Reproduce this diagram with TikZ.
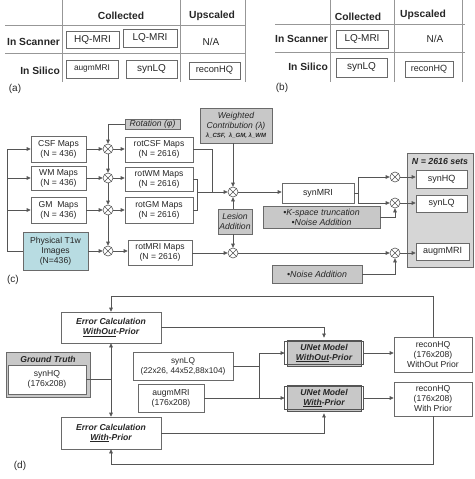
\documentclass[tikz,border=0pt]{standalone}
\usepackage{fontspec}
\setmainfont{Liberation Sans}
\usetikzlibrary{arrows.meta}
\definecolor{txt}{HTML}{262626}
\definecolor{linec}{HTML}{555555}
\definecolor{boxc}{HTML}{6A6A6A}
\definecolor{grayc}{HTML}{C8C8C8}
\definecolor{setc}{HTML}{D6D6D6}
\definecolor{tealc}{HTML}{B8DCE2}
\newcommand\fsz[2]{\fontsize{#1}{#2}\selectfont}
\tikzset{
  box/.style={draw=boxc, fill=white, line width=0.6pt, inner sep=1pt, align=center, text=txt, font=\fsz{8.6}{10}},
  tbox/.style={box, font=\fsz{10}{12}},
  gbox/.style={box, fill=grayc, font=\fsz{8.6}{10}\itshape},
  ln/.style={draw=linec, line width=0.6pt},
  tln/.style={draw=boxc!70, line width=0.6pt},
  arr/.style={ln, -{Triangle[length=4pt,width=3.6pt]}},
  darr/.style={ln, {Triangle[length=4pt,width=3.6pt]}-{Triangle[length=4pt,width=3.6pt]}},
  lab/.style={text=txt, inner sep=0pt, font=\fsz{10}{12}},
  hdr/.style={text=txt, inner sep=0pt, font=\fsz{10.3}{12}\bfseries},
  ox/.style={circle, draw=linec, fill=white, line width=0.6pt, minimum size=10pt, inner sep=0pt,
    path picture={\draw[linec, line width=0.6pt]
      ([shift={(45:6)}]path picture bounding box.center) -- ([shift={(225:6)}]path picture bounding box.center)
      ([shift={(135:6)}]path picture bounding box.center) -- ([shift={(315:6)}]path picture bounding box.center);}},
  unet/.style={box, fill=grayc, draw=linec, line width=0.8pt, font=\fsz{8.6}{10}\bfseries\itshape},
  uframe/.style={draw=linec, line width=0.8pt},
}
\begin{document}
\begin{tikzpicture}[x=1pt,y=-1pt]
\useasboundingbox (0,0) rectangle (474,479);
% ---------------- (a)
\draw[tln] (5,25) -- (245,25) (5,53) -- (245,53)
  (62,0) -- (62,82) (180,0) -- (180,82) (245,0) -- (245,82);
\node[hdr] (acol) at (121,16) {Collected};
\node[hdr] (aups) at (212,16) {Upscaled};
\node[hdr, anchor=east] (asc) at (60,42) {In Scanner};
\node[hdr, anchor=east] (asi) at (60,71) {In Silico};
\node[tbox, minimum width=53pt, minimum height=17pt] (ahq) at (92.5,39.5) {HQ-MRI};
\node[tbox, minimum width=54pt, minimum height=18pt] (alq) at (150,38) {LQ-MRI};
\node[lab] (ana) at (211,42) {N/A};
\node[tbox, font=\fsz{8.3}{10}, minimum width=52pt, minimum height=18pt] (aaug) at (92,69) {augmMRI};
\node[tbox, minimum width=51pt, minimum height=18pt] (asyn) at (151.5,69) {synLQ};
\node[tbox, font=\fsz{9.3}{11}, minimum width=51pt, minimum height=17pt] (arec) at (214.5,70.5) {reconHQ};
\node[lab] (alab) at (15,89) {(a)};
% ---------------- (b)
\draw[tln] (275,24) -- (465,24) (275,52) -- (465,52)
  (330,0) -- (330,82) (394,0) -- (394,82) (462,0) -- (462,82);
\node[hdr] (bcol) at (358,17) {Collected};
\node[hdr] (bups) at (423,15) {Upscaled};
\node[hdr, anchor=east] (bsc) at (328,39) {In Scanner};
\node[hdr, anchor=east] (bsi) at (328,67) {In Silico};
\node[tbox, minimum width=52pt, minimum height=18pt] (blq) at (362,39) {LQ-MRI};
\node[lab] (bna) at (435,39) {N/A};
\node[tbox, minimum width=51pt, minimum height=19pt] (bsyn) at (361.5,67.5) {synLQ};
\node[tbox, font=\fsz{9}{11}, minimum width=48pt, minimum height=16pt] (brec) at (429,69) {reconHQ};
\node[lab] (blab) at (282,88) {(b)};
% ---------------- (c)
\node[box, minimum width=55pt, minimum height=26pt] (csf) at (58.5,149) {CSF Maps\\(N = 436)};
\node[box, minimum width=55pt, minimum height=24pt] (wm) at (58.5,178) {WM Maps\\(N = 436)};
\node[box, minimum width=55pt, minimum height=26pt] (gm) at (58.5,210) {GM\ \ Maps\\(N = 436)};
\node[box, fill=tealc, minimum width=65pt, minimum height=38pt] (phys) at (55.5,251) {Physical T1w\\Images\\(N=436)};
\coordinate (b1) at (7,149);
\coordinate (b2) at (7,178);
\coordinate (b3) at (7,210);
\coordinate (b4) at (7,251);
\draw[ln] (phys.west) -- (b4) -- (b1);
\draw[arr] (b1) -- (csf.west);
\draw[arr] (b2) -- (wm.west);
\draw[arr] (b3) -- (gm.west);
\node[ox] (o1) at (108,149) {};
\node[ox] (o2) at (108,178) {};
\node[ox] (o3) at (108,210) {};
\node[ox] (o4) at (108,251) {};
\draw[arr] (csf.east) -- (o1);
\draw[arr] (wm.east) -- (o2);
\draw[arr] (gm.east) -- (o3);
\draw[arr] (phys.east) -- (o4);
\node[gbox, minimum width=55pt, minimum height=10pt, inner sep=0pt] (rot) at (152.5,124.5) {Rotation (φ)};
\draw[arr] (rot.west) -| (o1.north);
\draw[arr] (o1) -- (o2);
\draw[arr] (o2) -- (o3);
\draw[arr] (o3) -- (o4);
\node[box, minimum width=68pt, minimum height=25pt] (rcsf) at (159,149.5) {rotCSF Maps\\(N = 2616)};
\node[box, minimum width=68pt, minimum height=24pt] (rwm) at (159,179) {rotWM Maps\\(N = 2616)};
\node[box, minimum width=68pt, minimum height=26pt] (rgm) at (159,210) {rotGM Maps\\(N = 2616)};
\node[box, minimum width=64pt, minimum height=25pt] (rmri) at (160,252.5) {rotMRI Maps\\(N = 2616)};
\draw[arr] (o1) -- (rcsf.west |- o1);
\draw[arr] (o2) -- (rwm.west |- o2);
\draw[arr] (o3) -- (rgm.west |- o3);
\draw[arr] (o4) -- (rmri.west |- o4);
\node[ox] (oc) at (233,192) {};
\node[ox] (ol) at (233,253) {};
\coordinate (m1) at (212,192);
\coordinate (m2) at (197,192);
\draw[ln] (rcsf.east) -| (m1);
\draw[ln] (rwm.east) -| (m2);
\draw[ln] (rgm.east) -| (m2);
\draw[arr] (m2) -- (oc);
\node[gbox, minimum width=72pt, minimum height=35pt] (wc) at (236,125.5)
  {Weighted\\Contribution (λ)\\[-1pt]{\fsz{6}{7}\bfseries\itshape λ\_CSF,\ \ λ\_GM, λ\_WM}};
\draw[arr] (wc.south -| oc) -- (oc);
\node[gbox, minimum width=34pt, minimum height=25pt] (les) at (235,221.5) {Lesion\\Addition};
\draw[arr] (les.north -| oc) -- (oc);
\draw[arr] (les.south -| ol) -- (ol);
\draw[arr] (rmri.east |- ol) -- (ol);
\node[box, font=\fsz{8.8}{10}, minimum width=72pt, minimum height=20pt] (smri) at (318,193) {synMRI};
\draw[arr] (oc) -- (smri.west |- oc);
\node[ox] (r1) at (395,177) {};
\node[ox] (r2) at (395,203) {};
\node[ox] (r3) at (395,253) {};
\coordinate (s) at (358,193);
\draw[ln] (smri.east) -- (s);
\draw[arr] (s) |- (r1);
\draw[arr] (s) |- (r2);
\node[gbox, font=\fsz{8.8}{10}\itshape, minimum width=117pt, minimum height=22pt] (ksp) at (321.5,217) {•K-space truncation\\•Noise Addition};
\draw[arr] (ksp.east) -| (r2.south);
\node[gbox, font=\fsz{8.8}{10}\itshape, minimum width=90pt, minimum height=18pt] (noi) at (317,274) {•Noise Addition};
\draw[arr] (noi.east) -| (r3.south);
\draw[arr] (ol) -- (r3);
\node[box, fill=setc, draw=boxc, minimum width=66pt, minimum height=114pt] (nset) at (440,210) {};
\node[text=txt, inner sep=0pt, font=\fsz{8.8}{10}\bfseries\itshape] (nlab) at (440,161) {N = 2616 sets};
\node[box, font=\fsz{9}{10}, minimum width=51pt, minimum height=18pt] (shq) at (441.5,179) {synHQ};
\node[box, font=\fsz{9}{10}, minimum width=51pt, minimum height=17pt] (slq) at (441.5,203.5) {synLQ};
\node[box, font=\fsz{9}{10}, minimum width=53pt, minimum height=17pt] (saug) at (442.5,251.5) {augmMRI};
\draw[arr] (r1) -- (shq.west |- r1);
\draw[arr] (r2) -- (slq.west |- r2);
\draw[arr] (r3) -- (saug.west |- r3);
\node[lab] (clab) at (13,280) {(c)};
% ---------------- (d)
\node[box, font=\fsz{8.6}{10}\bfseries\itshape, minimum width=100pt, minimum height=31pt] (eout) at (111,327.5) {Error Calculation\\\underline{WithOut}-Prior};
\node[box, font=\fsz{8.6}{10}\bfseries\itshape, minimum width=100pt, minimum height=32pt] (ewith) at (111,433) {Error Calculation\\\underline{With}-Prior};
\node[box, fill=grayc, minimum width=84pt, minimum height=45pt] (gt) at (48,374.5) {};
\node[text=txt, inner sep=0pt, font=\fsz{8.6}{10}\bfseries\itshape] (gtlab) at (48,359.5) {Ground Truth};
\node[box, minimum width=78pt, minimum height=29pt] (gsyn) at (47,379.5) {synHQ\\(176x208)};
\node[box, font=\fsz{8.3}{10}, minimum width=100pt, minimum height=28pt] (dlq) at (183,366) {synLQ\\(22x26, 44x52,88x104)};
\node[box, minimum width=66pt, minimum height=28pt] (daug) at (171,398) {augmMRI\\(176x208)};
\node[unet, minimum width=74pt, minimum height=26pt] (uout) at (324,353) {UNet Model\\\underline{WithOut}-Prior};
\node[unet, minimum width=74pt, minimum height=26pt] (uwith) at (324,398) {UNet Model\\\underline{With}-Prior};
\draw[uframe] ([shift={(-2,-2)}]uout.south west) rectangle ([shift={(2,2)}]uout.north east);
\draw[uframe] ([shift={(-2,-2)}]uwith.south west) rectangle ([shift={(2,2)}]uwith.north east);
\node[box, minimum width=78pt, minimum height=35pt] (rout) at (433,354.5) {reconHQ\\(176x208)\\WithOut Prior};
\node[box, minimum width=78pt, minimum height=34pt] (rwith) at (433,399) {reconHQ\\(176x208)\\With Prior};
\coordinate (topy) at (0,296);
\coordinate (boty) at (0,464);
\coordinate (jx) at (259,0);
\draw[arr] (rout.north) -- (rout.north |- topy) -| (eout.north);
\draw[arr] (rwith.south) -- (rwith.south |- boty) -| (ewith.south);
\draw[ln] (gsyn.east) -- (gsyn.east -| eout.south);
\draw[darr] (eout.south) -- (ewith.north);
\draw[ln] (dlq.east) -- (dlq.east -| jx);
\draw[ln] (daug.east) -- (daug.east -| jx);
\draw[ln] (jx |- uout) -- (jx |- uwith);
\draw[arr] (jx |- uout) -- ([xshift=-2pt]uout.west);
\draw[arr] (jx |- uwith) -- ([xshift=-2pt]uwith.west);
\draw[arr] (eout.east) -| ([yshift=2pt]uout.north);
\draw[arr] (ewith.east) -| ([yshift=-2pt]uwith.south);
\draw[arr] ([xshift=2pt]uout.east) -- (rout.west |- uout.east);
\draw[arr] ([xshift=2pt]uwith.east) -- (rwith.west |- uwith.east);
\node[lab] (dlab) at (20,466) {(d)};
\end{tikzpicture}
\end{document}
